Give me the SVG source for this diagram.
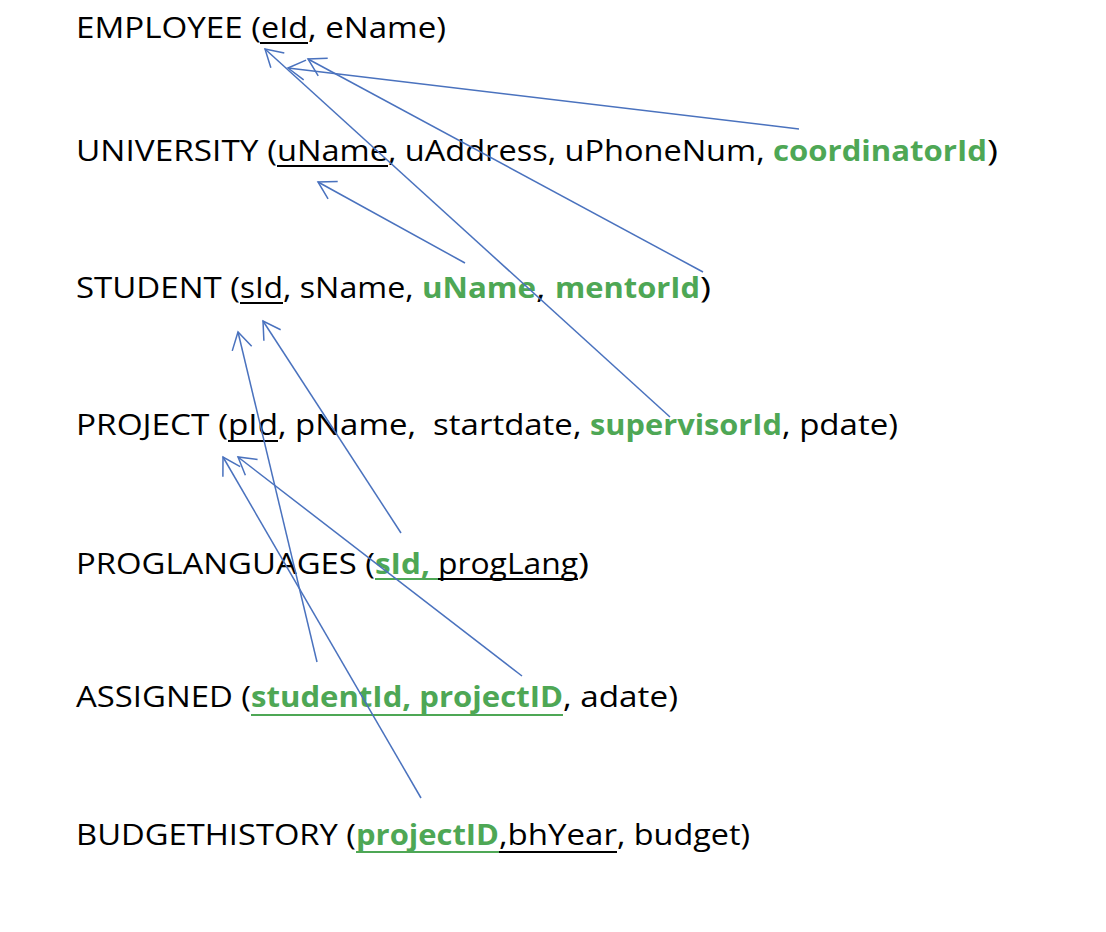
<svg xmlns="http://www.w3.org/2000/svg" width="1106" height="932" viewBox="0 0 1106 932">
<style>
text{font-family:"Open Sans","Liberation Sans",sans-serif;font-size:29px;fill:#000;white-space:pre}
.k{fill:#4EA755;font-weight:700}
.u{stroke:#000;stroke-width:1.8}
.ug{stroke:#4EA755;stroke-width:1.8}
.c{stroke:#4A72BE;stroke-width:1.5;fill:none;marker-end:url(#ah)}
</style>
<defs>
<marker id="ah" markerUnits="userSpaceOnUse" viewBox="-20 -12 22 24" markerWidth="22" markerHeight="24" refX="0" refY="0" orient="auto">
<path d="M-17,-10 L0,0 L-17,10" fill="none" stroke="#4A72BE" stroke-width="1.5"/>
</marker>
</defs>
<rect width="1106" height="932" fill="#fff"/>
<g id="employee">
<text x="76" y="38" textLength="185" lengthAdjust="spacingAndGlyphs">EMPLOYEE (</text>
<text x="261" y="38" textLength="47" lengthAdjust="spacingAndGlyphs">eId</text>
<text x="308" y="38" textLength="138" lengthAdjust="spacingAndGlyphs">, eName)</text>
<line class="u" x1="260" y1="43" x2="308" y2="43"/>
</g>
<g id="university">
<text x="76" y="161" textLength="201" lengthAdjust="spacingAndGlyphs">UNIVERSITY (</text>
<text x="277" y="161" textLength="111" lengthAdjust="spacingAndGlyphs">uName</text>
<text x="388" y="161" textLength="385" lengthAdjust="spacingAndGlyphs">, uAddress, uPhoneNum, </text>
<text class="k" x="773" y="161" textLength="214" lengthAdjust="spacingAndGlyphs">coordinatorId</text>
<text x="987" y="161" textLength="11" lengthAdjust="spacingAndGlyphs">)</text>
<line class="u" x1="277" y1="166" x2="388" y2="166"/>
</g>
<g id="student">
<text x="76" y="298" textLength="164" lengthAdjust="spacingAndGlyphs">STUDENT (</text>
<text x="240" y="298" textLength="43" lengthAdjust="spacingAndGlyphs">sId</text>
<text x="283" y="298" textLength="139" lengthAdjust="spacingAndGlyphs">, sName, </text>
<text class="k" x="422" y="298" textLength="114" lengthAdjust="spacingAndGlyphs">uName</text>
<text x="536" y="298" textLength="19" lengthAdjust="spacingAndGlyphs">, </text>
<text class="k" x="555" y="298" textLength="145" lengthAdjust="spacingAndGlyphs">mentorId</text>
<text x="700" y="298" textLength="11" lengthAdjust="spacingAndGlyphs">)</text>
<line class="u" x1="240" y1="303" x2="283" y2="303"/>
</g>
<g id="project">
<text x="76" y="435" textLength="152" lengthAdjust="spacingAndGlyphs">PROJECT (</text>
<text x="228" y="435" textLength="50" lengthAdjust="spacingAndGlyphs">pId</text>
<text x="278" y="435" textLength="312" lengthAdjust="spacingAndGlyphs">, pName,  startdate, </text>
<text class="k" x="590" y="435" textLength="192" lengthAdjust="spacingAndGlyphs">supervisorId</text>
<text x="782" y="435" textLength="116" lengthAdjust="spacingAndGlyphs">, pdate)</text>
<line class="u" x1="228" y1="441" x2="278" y2="441"/>
</g>
<g id="proglanguages">
<text x="76" y="574" textLength="299" lengthAdjust="spacingAndGlyphs">PROGLANGUAGES (</text>
<text class="k" x="375" y="574" textLength="63" lengthAdjust="spacingAndGlyphs">sId, </text>
<text x="438" y="574" textLength="140" lengthAdjust="spacingAndGlyphs">progLang</text>
<text x="578" y="574" textLength="11" lengthAdjust="spacingAndGlyphs">)</text>
<line class="ug" x1="375" y1="579" x2="438" y2="579"/>
<line class="u" x1="438" y1="579" x2="578" y2="579"/>
</g>
<g id="assigned">
<text x="76" y="707" textLength="175" lengthAdjust="spacingAndGlyphs">ASSIGNED (</text>
<text class="k" x="251" y="707" textLength="312" lengthAdjust="spacingAndGlyphs">studentId, projectID</text>
<text x="563" y="707" textLength="115" lengthAdjust="spacingAndGlyphs">, adate)</text>
<line class="ug" x1="251" y1="715" x2="563" y2="715"/>
</g>
<g id="budgethistory">
<text x="76" y="845" textLength="280" lengthAdjust="spacingAndGlyphs">BUDGETHISTORY (</text>
<text class="k" x="356" y="845" textLength="143" lengthAdjust="spacingAndGlyphs">projectID</text>
<text x="499" y="845" textLength="118" lengthAdjust="spacingAndGlyphs">,bhYear</text>
<text x="617" y="845" textLength="133" lengthAdjust="spacingAndGlyphs">, budget)</text>
<line class="ug" x1="356" y1="852" x2="499" y2="852"/>
<line class="u" x1="499" y1="852" x2="617" y2="852"/>
</g>
<g id="connectors">
<line class="c" x1="799" y1="129" x2="288" y2="68"/>
<line class="c" x1="703" y1="272" x2="308" y2="59"/>
<line class="c" x1="670" y1="417" x2="265" y2="49"/>
<line class="c" x1="465" y1="263" x2="318" y2="182"/>
<line class="c" x1="401" y1="533" x2="263" y2="321"/>
<line class="c" x1="317" y1="662" x2="238" y2="332"/>
<line class="c" x1="522" y1="676" x2="238" y2="457"/>
<line class="c" x1="421" y1="798" x2="223" y2="457"/>
</g>
</svg>
